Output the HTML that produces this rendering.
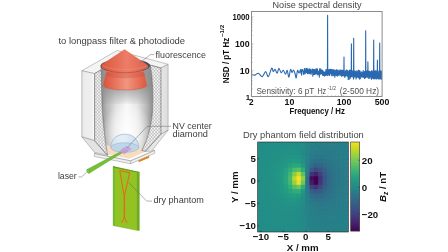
<!DOCTYPE html>
<html><head><meta charset="utf-8"><style>
html,body{margin:0;padding:0;background:#fff;width:448px;height:252px;overflow:hidden}
svg{display:block}
.lt{font-family:"Liberation Sans",sans-serif}
.bt{font-family:"Liberation Sans",sans-serif;font-weight:bold;fill:#111}
</style></head><body>
<svg width="448" height="252" viewBox="0 0 448 252">
<defs>
<filter id="soft" x="-2%" y="-2%" width="104%" height="104%"><feGaussianBlur stdDeviation="0.45"/></filter>
</defs>
<rect width="448" height="252" fill="#fff"/>
<defs>
<pattern id="hatch" width="3" height="3.3" patternUnits="userSpaceOnUse">
<rect width="3" height="3.3" fill="#fcfcfc"/>
<path d="M0,0 L3,3.3 M3,0 L0,3.3" stroke="#808080" stroke-width="0.42" fill="none"/>
</pattern>
<linearGradient id="bore" x1="101" y1="0" x2="153" y2="0" gradientUnits="userSpaceOnUse">
<stop offset="0" stop-color="#8c8c8c"/>
<stop offset="0.1" stop-color="#b4b4b4"/>
<stop offset="0.28" stop-color="#dedede"/>
<stop offset="0.5" stop-color="#f7f7f7"/>
<stop offset="0.7" stop-color="#e4e4e4"/>
<stop offset="0.88" stop-color="#b8b8b8"/>
<stop offset="1" stop-color="#8a8a8a"/>
</linearGradient>
<linearGradient id="boretop" x1="0" y1="86" x2="0" y2="106" gradientUnits="userSpaceOnUse">
<stop offset="0" stop-color="#8a8a8a" stop-opacity="0.75"/>
<stop offset="1" stop-color="#8a8a8a" stop-opacity="0"/>
</linearGradient>
<radialGradient id="borehl" cx="127" cy="132" r="24" gradientUnits="userSpaceOnUse" gradientTransform="translate(127 132) scale(1 1.3) translate(-127 -132)">
<stop offset="0" stop-color="#ffffff" stop-opacity="0.85"/>
<stop offset="0.6" stop-color="#ffffff" stop-opacity="0.45"/>
<stop offset="1" stop-color="#ffffff" stop-opacity="0"/>
</radialGradient>
<linearGradient id="lface" x1="82" y1="0" x2="95" y2="0" gradientUnits="userSpaceOnUse">
<stop offset="0" stop-color="#e2e2e2"/><stop offset="0.15" stop-color="#ececec"/><stop offset="0.75" stop-color="#efefef"/><stop offset="0.92" stop-color="#fafafa"/><stop offset="1" stop-color="#f4f4f4"/>
</linearGradient>
<linearGradient id="rface" x1="161" y1="0" x2="168" y2="0" gradientUnits="userSpaceOnUse">
<stop offset="0" stop-color="#f6f6f6"/><stop offset="0.2" stop-color="#e4e4e4"/><stop offset="1" stop-color="#dddddd"/>
</linearGradient>
<linearGradient id="cone" x1="101" y1="0" x2="148" y2="0" gradientUnits="userSpaceOnUse">
<stop offset="0" stop-color="#dc553b"/>
<stop offset="0.55" stop-color="#ec7d68"/>
<stop offset="1" stop-color="#e0614a"/>
</linearGradient>
<linearGradient id="frus" x1="103" y1="0" x2="146" y2="0" gradientUnits="userSpaceOnUse">
<stop offset="0" stop-color="#dc5239"/>
<stop offset="0.55" stop-color="#f19580"/>
<stop offset="1" stop-color="#df5a40"/>
</linearGradient>
<radialGradient id="dome" cx="122" cy="138" r="16" gradientUnits="userSpaceOnUse">
<stop offset="0" stop-color="#e4eef7"/>
<stop offset="1" stop-color="#c9dcee"/>
</radialGradient>
</defs>
<g id="illus" stroke-linejoin="round">
<!-- white plate -->
<path d="M94.4,153.7 L118.5,143.3 L154.7,150.5 L130.6,160.9 Z" fill="#fbfbfb" stroke="#8c8c8c" stroke-width="0.5"/>
<path d="M94.4,153.7 L130.6,160.9 L154.7,150.5 L154.7,153.3 L130.6,163.7 L94.4,156.5 Z" fill="#f0f0f0" stroke="#8c8c8c" stroke-width="0.5"/>
<path d="M130.6,160.9 L130.6,163.7" stroke="#8c8c8c" stroke-width="0.5"/>
<path d="M138.6,160.3 L149.2,155.7 L149.2,157.7 L138.6,162.3 Z" fill="#e0801e"/>
<!-- beige sample area -->
<path d="M105.2,144.5 C110,142.8 118,141.5 125,141 L147.8,150.8 L129.2,158.8 L108,154.6 Z" fill="#f6dcc0"/>
<!-- bore interior -->
<path d="M100.8,66 C101.5,85 101.8,110 103.5,125 C104.3,133 105,139 105.9,144.2 C108,145.5 110,146.3 112,146.3 L138,146.3 C139.5,147 140.8,148.5 141.8,150.5 C146,142 151,130 152.5,112 C153.3,98 153,80 150.3,64.5 Z" fill="url(#bore)"/>
<path d="M100.8,66 C101.5,85 101.8,95 102,104 L152.9,104 C153,90 153,80 150.3,64.5 Z" fill="url(#boretop)"/>
<path d="M100.8,66 C101.5,85 101.8,110 103.5,125 C104.3,133 105,139 105.9,144.2 C108,145.5 110,146.3 112,146.3 L138,146.3 C139.5,147 140.8,148.5 141.8,150.5 C146,142 151,130 152.5,112 C153.3,98 153,80 150.3,64.5 Z" fill="url(#borehl)"/>
<!-- top rim -->
<path d="M81.8,70.8 L117,50.5 L168.1,64.3 L160.9,68 L150.3,65.2 C146,60.5 135,58.8 125.3,59 C115,59.3 104,61.5 100.8,66.4 L101.2,69.8 L94.6,73.6 Z" fill="#f4f4f4" stroke="#8c8c8c" stroke-width="0.5"/>
<path d="M94.6,73.6 L122.4,57.7 L160.9,68" fill="none" stroke="#a8a8a8" stroke-width="0.4"/>
<!-- bore opening (dark ring) -->
<path d="M100.3,66 C101,61.5 112,59.3 125.3,59.2 C139,59.3 149.5,61.5 150.3,65.5 C149,70 140,72.5 125.3,72.5 C111,72.5 101.5,70.5 100.3,66 Z" fill="#4e4e4e"/>
<path d="M102.5,66.5 C104,63 113,61.2 125.3,61.2 C137.5,61.2 146.5,63 148.2,66.5 C146.5,70.5 137,72.2 125.3,72.2 C113,72.2 104,70.5 102.5,66.5 Z" fill="#8a8a8a"/>
<!-- outer faces -->
<path d="M81.8,70.8 L94.6,73.6 L94.6,140.7 L81.8,136.9 Z" fill="url(#lface)" stroke="#8c8c8c" stroke-width="0.5"/>
<path d="M168.1,64.3 L160.9,68 L160.9,134.2 L168.1,130.3 Z" fill="url(#rface)" stroke="#8c8c8c" stroke-width="0.5"/>
<!-- chamfers -->
<path d="M81.8,136.9 L94.6,140.7 L107.2,155.2 L94.5,152.4 Z" fill="#e3e3e3" stroke="#8c8c8c" stroke-width="0.5"/>
<path d="M168.1,130.3 L160.9,134.2 L145.3,151.3 L151.5,151.2 Z" fill="#e6e6e6" stroke="#8c8c8c" stroke-width="0.5"/>
<!-- hatched cut faces -->
<path d="M94.6,73.6 L101.2,69.8 C101.5,85 101.8,110 103.5,125 C104.8,138 106,148 107.8,155.2 L107.2,155.2 L94.6,140.7 Z" fill="url(#hatch)" stroke="#666" stroke-width="0.6"/>
<path d="M150.3,65.2 L160.9,68 L160.9,134.2 L145.3,151.3 L141.8,150.5 C146,142 151,130 152.5,112 C153.3,98 153,80 150.3,65.2 Z" fill="url(#hatch)" stroke="#666" stroke-width="0.6"/>
<!-- laser beam -->
<path d="M87.25,169.5 L122.1,150.9 L122.9,152.3 L89.35,173.1 Z" fill="#74c22c" stroke="#4a962c" stroke-width="0.5"/>
<ellipse cx="88.3" cy="171.3" rx="1.25" ry="2.15" transform="rotate(-30 88.3 171.3)" fill="#8ccd4a" stroke="#4a962c" stroke-width="0.5"/>
<!-- diamond -->
<!-- dome -->
<path d="M110.8,146.5 C110.8,139 117,134.2 124.8,134.2 C132.6,134.2 138.8,139 138.8,146.5 Z" fill="url(#dome)" fill-opacity="0.9"/>
<ellipse cx="124.8" cy="147.6" rx="14" ry="4.8" fill="#b9d4ea" fill-opacity="0.85" stroke="#8fb0c8" stroke-width="0.5"/>
<g opacity="0.8"><path d="M119.3,151.6 L126.0,146.4 L131.2,148.8 L124.5,153.8 Z" fill="#cfa6dc" stroke="#a87cc4" stroke-width="0.45"/>
<path d="M121.5,152.6 L128.2,147.4 M123.2,153.2 L129.8,148.1 M120.6,150.2 L125.9,152.7 M122.4,148.8 L127.7,151.3" stroke="#a87cc4" stroke-width="0.45" fill="none"/></g>
<path d="M110.8,147.6 C110.8,139 117,134.2 124.8,134.2 C132.6,134.2 138.8,139 138.8,147.6" fill="none" stroke="#8fb0c8" stroke-width="0.6"/>
<!-- frustum -->
<path d="M106.5,71.5 L103,85.5 C105,88.6 114,89.9 124.6,89.9 C135,89.9 144.5,88.6 147,85.5 L143.9,71.5 Z" fill="url(#frus)"/>
<path d="M103,85.5 C105,88.6 114,89.9 124.6,89.9 C135,89.9 144.5,88.6 147,85.5" fill="none" stroke="#c94a32" stroke-width="0.4"/>
<path d="M106.3,72.3 L105.6,75.5 C111,77.6 117,78.2 124.6,78.2 C132,78.2 139,77.6 144.6,75.5 L143.9,72.3 Z" fill="#c84a33" fill-opacity="0.3"/>
<!-- cone -->
<path d="M124.6,49.3 L103.2,63.6 C100.6,65.2 100.9,67.6 103.6,68.9 C110,71.6 117,72.7 124.6,72.7 C132,72.7 139,71.7 145.3,69.1 C148.2,67.7 148.2,65.2 145.8,63.7 Z" fill="url(#cone)"/>
<path d="M103.6,68.9 C110,71.6 117,72.7 124.6,72.7 C132,72.7 139,71.7 145.3,69.1" fill="none" stroke="#b9432c" stroke-width="0.6"/>
<path d="M102.5,65.8 C110,68.8 117,69.6 124.6,69.6 C132,69.6 139,68.8 146.8,65.9" fill="none" stroke="#f39a86" stroke-width="0.8" stroke-opacity="0.45"/>
<!-- phantom -->
<path d="M113.2,166.3 L139.4,171.9 L139.4,230.8 L113.2,225.6 Z" fill="#92c322"/>
<path d="M113.2,166.3 L115,166.7 L115,226 L113.2,225.6 Z" fill="#74bd32"/>
<path d="M113.2,166.3 L139.4,171.9 L139.4,173.1 L113.2,167.5 Z" fill="#679a2a"/>
<path d="M136.9,171.5 L139.4,171.9 L139.4,230.8 L136.9,230.3 Z" fill="#6eaa2a"/>
<path d="M113.2,166.3 L113.2,225.6 L136.9,230.3" fill="none" stroke="#6aa83a" stroke-width="0.5"/>
<path d="M124.3,196.5 L119.8,170.7 L129.7,172.6 Z M124.2,196.5 C123.6,200 124.9,203 124.2,206.5 C123.6,210 124.9,213 124.2,218 L121.6,222.6 M124.5,196.5 C125.1,200 123.8,203 124.5,206.5 C125.1,210 123.8,213 124.5,218 L127,222.8" fill="none" stroke="#ec6419" stroke-width="1.0" stroke-linejoin="round"/>
<!-- leader lines -->
<path d="M139.7,62.8 L150.5,54.6 L154.2,54.6" fill="none" stroke="#666" stroke-width="0.5"/>
<path d="M127.0,147.9 L147.2,126.3 L171,126.3" fill="none" stroke="#666" stroke-width="0.5"/>
<path d="M78.6,176.9 L81.7,176.9 L86.8,172" fill="none" stroke="#666" stroke-width="0.5"/>
<path d="M128.6,182.5 L146.7,201.1 L152,201.1" fill="none" stroke="#666" stroke-width="0.5"/>
<!-- labels -->
<g class="lt" fill="#3c3c3c" font-size="8.7">
<text x="58.5" y="43.6" textLength="126.6" lengthAdjust="spacingAndGlyphs">to longpass filter &amp; photodiode</text>
<text x="155.6" y="57.7" textLength="50.4" lengthAdjust="spacingAndGlyphs">fluorescence</text>
<text x="172.6" y="128.5" textLength="39.2" lengthAdjust="spacingAndGlyphs">NV center</text>
<text x="172.6" y="137" textLength="35.3" lengthAdjust="spacingAndGlyphs">diamond</text>
<text x="57.9" y="179" textLength="18.8" lengthAdjust="spacingAndGlyphs">laser</text>
<text x="153.4" y="203.4" textLength="50.5" lengthAdjust="spacingAndGlyphs">dry phantom</text>
</g>
</g>

<g id="nsd">
<text x="272.5" y="7.6" class="lt" font-size="8.6" fill="#454545" textLength="89" lengthAdjust="spacingAndGlyphs">Noise spectral density</text>
<clipPath id="nsdclip"><rect x="251" y="11.6" width="131" height="85"/></clipPath>
<path d="M318.00,71.94 L318.60,71.94 L319.20,71.86 L319.80,71.86 L320.40,71.84 L321.00,71.81 L321.60,71.79 L322.20,71.75 L322.80,71.85 L323.40,71.60 L324.00,71.67 L324.60,71.71 L325.20,71.70 L325.80,71.51 L326.40,71.81 L327.00,71.29 L327.60,71.69 L328.20,71.25 L328.80,71.80 L329.40,71.68 L330.00,71.05 L330.60,71.66 L331.20,71.32 L331.80,71.37 L332.40,71.42 L333.00,70.98 L333.60,70.87 L334.20,70.85 L334.80,70.69 L335.40,71.16 L336.00,71.06 L336.60,71.52 L337.20,71.62 L337.80,71.50 L338.40,71.14 L339.00,71.23 L339.60,71.12 L340.20,71.22 L340.80,70.35 L341.40,70.07 L342.00,71.04 L342.60,71.12 L343.20,70.76 L343.80,69.85 L344.40,70.29 L345.00,71.41 L345.60,70.37 L346.20,69.99 L346.80,71.56 L347.40,69.97 L348.00,70.03 L348.60,71.69 L349.20,70.96 L349.80,70.44 L350.40,69.96 L351.00,70.34 L351.60,70.42 L352.20,70.03 L352.80,71.11 L353.40,70.16 L354.00,70.19 L354.60,71.34 L355.20,71.17 L355.80,71.36 L356.40,71.88 L357.00,70.67 L357.60,70.86 L358.20,71.77 L358.80,71.70 L359.40,70.74 L360.00,71.66 L360.60,71.96 L361.20,70.94 L361.80,71.78 L362.40,72.35 L363.00,71.25 L363.60,71.75 L364.20,71.27 L364.80,71.05 L365.40,70.53 L366.00,72.05 L366.60,70.52 L367.20,71.35 L367.80,70.65 L368.40,71.58 L369.00,71.22 L369.60,72.04 L370.20,72.68 L370.80,72.62 L371.40,72.10 L372.00,72.77 L372.60,71.93 L373.20,71.36 L373.80,72.39 L374.40,70.99 L375.00,72.77 L375.60,72.93 L376.20,72.97 L376.80,71.66 L377.40,72.73 L378.00,72.36 L378.60,72.93 L379.20,71.65 L379.80,71.80 L380.40,72.62 L381.00,71.10 L381.60,71.82 L381.60,78.47 L381.00,79.09 L380.40,78.53 L379.80,77.41 L379.20,78.37 L378.60,78.88 L378.00,77.82 L377.40,79.03 L376.80,77.23 L376.20,77.25 L375.60,77.41 L375.00,77.59 L374.40,78.24 L373.80,78.91 L373.20,76.81 L372.60,77.19 L372.00,78.71 L371.40,76.83 L370.80,77.07 L370.20,77.78 L369.60,76.57 L369.00,77.24 L368.40,77.77 L367.80,76.55 L367.20,78.50 L366.60,76.98 L366.00,76.76 L365.40,76.73 L364.80,76.44 L364.20,76.56 L363.60,77.46 L363.00,76.69 L362.40,76.96 L361.80,77.39 L361.20,77.60 L360.60,76.23 L360.00,77.27 L359.40,76.70 L358.80,76.52 L358.20,76.34 L357.60,77.45 L357.00,76.93 L356.40,75.88 L355.80,76.58 L355.20,76.58 L354.60,77.15 L354.00,76.41 L353.40,76.31 L352.80,77.39 L352.20,76.02 L351.60,77.21 L351.00,76.23 L350.40,75.69 L349.80,76.67 L349.20,76.41 L348.60,76.37 L348.00,76.42 L347.40,75.27 L346.80,75.80 L346.20,75.33 L345.60,75.34 L345.00,76.90 L344.40,75.92 L343.80,75.26 L343.20,76.08 L342.60,75.14 L342.00,76.12 L341.40,76.33 L340.80,75.34 L340.20,75.24 L339.60,75.70 L339.00,74.48 L338.40,75.23 L337.80,74.95 L337.20,74.51 L336.60,74.51 L336.00,74.27 L335.40,74.81 L334.80,74.10 L334.20,73.85 L333.60,74.11 L333.00,73.81 L332.40,74.61 L331.80,73.68 L331.20,74.16 L330.60,73.83 L330.00,73.38 L329.40,73.63 L328.80,73.43 L328.20,73.75 L327.60,73.16 L327.00,73.03 L326.40,73.37 L325.80,73.13 L325.20,73.03 L324.60,72.81 L324.00,72.92 L323.40,72.60 L322.80,72.68 L322.20,72.55 L321.60,72.40 L321.00,72.44 L320.40,72.33 L319.80,72.18 L319.20,72.12 L318.60,72.03 L318.00,71.94 Z" fill="#2a69b0" fill-opacity="0.9" clip-path="url(#nsdclip)"/>
<path d="M251.60,74.70 C252.17,74.77 253.88,75.35 255.00,75.10 C256.12,74.85 257.10,72.95 258.30,73.20 C259.50,73.45 260.98,76.87 262.20,76.60 C263.42,76.33 264.58,71.60 265.60,71.60 C266.62,71.60 267.28,77.17 268.30,76.60 C269.32,76.03 270.87,69.03 271.70,68.20 C272.53,67.37 272.75,71.42 273.30,71.60 C273.85,71.78 274.35,69.03 275.00,69.30 C275.65,69.57 276.55,73.38 277.20,73.20 C277.85,73.02 278.25,68.28 278.90,68.20 C279.55,68.12 280.37,72.37 281.10,72.70 C281.83,73.03 282.55,69.93 283.30,70.20 C284.05,70.47 284.95,74.27 285.60,74.30 C286.25,74.33 286.65,69.93 287.20,70.40 C287.75,70.87 288.35,77.25 288.90,77.10 C289.45,76.95 289.98,70.27 290.50,69.50 C291.02,68.73 291.50,72.42 292.00,72.50 C292.50,72.58 293.00,69.83 293.50,70.00 C294.00,70.17 294.55,72.17 295.00,73.50 C295.45,74.83 295.78,78.50 296.20,78.00 C296.62,77.50 297.03,71.33 297.50,70.50 C297.97,69.67 298.50,73.17 299.00,73.00 C299.50,72.83 300.25,70.08 300.50,69.50 L300.72,71.75 L300.94,73.35 L301.16,69.45 L301.37,69.89 L301.59,75.18 L301.81,72.82 L302.03,70.91 L302.24,69.95 L302.46,69.81 L302.67,69.68 L302.89,70.82 L303.11,71.18 L303.32,71.48 L303.53,74.11 L303.75,71.91 L303.96,74.49 L304.18,71.88 L304.39,68.50 L304.60,68.46 L304.81,71.33 L305.02,71.05 L305.24,73.76 L305.45,71.36 L305.66,71.27 L305.87,69.78 L306.08,68.36 L306.29,69.46 L306.50,72.49 L306.71,69.53 L306.91,70.56 L307.12,68.35 L307.33,73.38 L307.54,69.28 L307.74,69.98 L307.95,73.73 L308.16,73.54 L308.36,72.28 L308.57,72.92 L308.78,68.94 L308.98,71.71 L309.18,71.52 L309.39,73.77 L309.59,72.10 L309.80,68.78 L310.00,70.82 L310.20,70.43 L310.41,69.37 L310.61,73.51 L310.81,70.81 L311.01,74.55 L311.21,72.23 L311.41,72.45 L311.61,72.70 L311.81,69.43 L312.01,71.25 L312.21,70.00 L312.41,71.03 L312.61,69.12 L312.81,76.30 L313.01,70.41 L313.21,74.04 L313.40,69.37 L313.60,73.88 L313.80,74.53 L313.99,72.17 L314.19,69.48 L314.39,69.79 L314.58,74.48 L314.78,69.73 L314.97,74.22 L315.17,72.23 L315.36,71.00 L315.55,71.24 L315.75,70.15 L315.94,68.86 L316.13,74.25 L316.32,72.15 L316.52,70.71 L316.71,73.49 L316.90,68.81 L317.09,71.06 L317.28,68.86 L317.47,69.46 L317.66,74.94 L317.85,71.46 L318.04,72.09 L318.23,74.37 L318.42,72.54 L318.61,73.16 L318.80,71.03 L318.98,72.11 L319.17,73.73 L319.36,77.13 L319.55,68.77 L319.73,73.69 L319.92,74.07 L320.11,69.66 L320.29,71.52 L320.48,74.14 L320.66,68.87 L320.85,72.93 L321.03,74.03 L321.21,72.19 L321.40,73.61 L321.58,70.31 L321.77,70.13 L321.95,71.23 L322.13,70.02 L322.31,71.13 L322.49,75.16 L322.68,71.11 L322.86,70.66 L323.04,75.22 L323.22,75.43 L323.40,72.36 L323.58,74.89 L323.76,72.78 L323.94,71.75 L324.12,74.80 L324.30,76.27 L324.48,72.41 L324.65,75.33 L324.83,74.36 L325.01,73.50 L325.19,73.78 L325.36,73.20 L325.54,75.53 L325.72,71.65 L325.89,70.33 L326.07,69.30 L326.24,70.41 L326.42,75.21 L326.59,69.74 L326.77,73.10 L326.94,72.26 L327.12,73.06 L327.29,73.51 L327.46,71.10 L327.45,74.00 L327.60,15.40 L327.75,74.50 L327.64,75.61 L327.81,73.33 L327.98,73.39 L328.15,70.29 L328.33,69.45 L328.50,71.87 L328.67,74.32 L328.84,74.68 L329.01,74.11 L329.18,69.84 L329.35,75.40 L329.52,75.16 L329.69,75.52 L329.86,69.22 L330.03,70.84 L330.20,70.82 L330.37,70.40 L330.54,73.06 L330.70,69.38 L330.87,73.24 L331.04,70.28 L331.20,73.87 L331.37,69.28 L331.54,71.31 L331.70,75.74 L331.87,74.86 L332.04,73.78 L332.20,73.46 L332.37,70.51 L332.53,73.22 L332.70,69.45 L332.86,74.85 L333.02,75.98 L333.19,69.55 L333.35,71.60 L333.51,71.46 L333.68,70.00 L333.84,73.67 L334.00,74.89 L334.16,71.46 L334.32,75.38 L334.49,70.15 L334.65,74.72 L334.81,77.19 L334.97,73.82 L335.13,73.62 L335.29,69.95 L335.45,74.01 L335.61,73.81 L335.77,75.20 L335.93,75.06 L336.08,71.64 L336.24,74.49 L336.40,75.55 L336.56,70.46 L336.72,69.50 L336.87,74.02 L337.03,70.87 L337.19,73.40 L337.34,76.18 L337.50,71.16 L337.66,72.65 L337.81,74.12 L337.97,70.08 L338.12,72.12 L338.28,70.33 L338.43,74.19 L338.59,75.43 L338.74,72.12 L338.89,72.09 L339.05,73.33 L339.20,70.96 L339.35,71.20 L339.51,71.82 L339.66,72.76 L339.81,70.00 L339.96,74.95 L340.12,73.68 L340.27,71.63 L340.42,70.00 L340.57,75.06 L340.72,70.40 L340.87,70.43 L341.02,70.41 L341.17,70.05 L341.32,76.17 L341.47,71.73 L341.62,75.64 L341.77,74.07 L341.92,70.87 L342.07,72.71 L342.21,76.06 L342.36,74.78 L342.51,70.22 L342.66,74.92 L342.80,75.30 L342.95,75.68 L343.10,74.55 L343.24,72.29 L343.39,70.00 L343.54,73.42 L343.68,75.21 L343.83,70.97 L343.97,71.54 L343.85,74.00 L344.00,57.10 L344.15,74.50 L344.12,73.58 L344.26,75.18 L344.41,76.86 L344.55,75.59 L344.69,74.43 L344.84,75.01 L344.98,77.10 L345.13,75.95 L345.27,75.46 L345.41,72.58 L345.55,74.45 L345.70,71.00 L345.84,75.36 L345.98,75.36 L346.12,75.09 L346.26,73.00 L346.40,72.50 L346.54,72.82 L346.68,69.89 L346.82,76.07 L346.96,73.78 L347.10,72.60 L347.24,73.84 L347.38,75.17 L347.52,72.58 L347.66,76.02 L347.80,76.71 L347.94,70.73 L348.08,75.51 L348.21,79.49 L348.35,76.03 L348.49,77.05 L348.63,77.84 L348.76,74.13 L348.90,73.14 L349.04,75.49 L349.17,71.18 L349.31,79.15 L349.45,70.25 L349.58,73.39 L349.72,69.98 L349.85,72.17 L349.99,72.16 L350.12,75.32 L350.26,73.28 L350.39,70.20 L350.52,77.49 L350.66,78.11 L350.79,71.53 L350.92,70.74 L351.06,70.03 L351.19,73.70 L351.32,70.75 L351.25,74.00 L351.40,43.90 L351.55,74.50 L351.45,71.17 L351.59,76.51 L351.72,71.23 L351.85,75.04 L351.98,71.89 L352.11,73.94 L352.24,72.03 L352.37,73.87 L352.51,74.75 L352.64,74.04 L352.77,72.94 L352.90,76.05 L353.03,77.14 L353.16,70.74 L353.28,77.56 L353.41,71.67 L353.54,79.10 L353.67,73.79 L353.55,74.00 L353.70,38.30 L353.85,74.50 L353.80,78.09 L353.93,74.61 L354.06,70.40 L354.18,71.75 L354.31,73.56 L354.44,76.86 L354.56,76.46 L354.69,75.93 L354.82,75.52 L354.94,76.65 L355.07,75.32 L355.20,75.76 L355.32,72.32 L355.45,71.26 L355.57,75.95 L355.70,71.25 L355.82,77.27 L355.95,72.57 L356.07,79.06 L356.20,70.68 L356.32,77.67 L356.44,76.38 L356.57,72.21 L356.69,76.38 L356.82,75.60 L356.94,75.13 L357.06,77.60 L357.18,73.31 L357.31,75.54 L357.43,76.70 L357.55,72.69 L357.67,75.38 L357.79,71.68 L357.91,74.45 L358.04,76.21 L358.16,70.54 L358.28,75.89 L358.40,70.14 L358.52,77.77 L358.64,73.33 L358.76,75.86 L358.88,74.27 L359.00,75.96 L359.12,70.73 L359.24,74.61 L359.35,74.58 L359.47,79.09 L359.59,75.18 L359.71,74.54 L359.83,70.67 L359.95,74.90 L360.06,71.88 L360.18,71.67 L360.30,78.72 L360.42,76.20 L360.53,75.86 L360.65,74.61 L360.77,76.69 L360.88,73.91 L361.00,75.18 L361.11,76.81 L361.23,75.66 L361.34,75.37 L361.46,73.45 L361.57,74.70 L361.69,73.38 L361.80,76.24 L361.92,73.26 L362.03,73.97 L362.15,76.35 L362.26,74.29 L362.37,72.93 L362.49,76.96 L362.60,73.30 L362.71,77.12 L362.83,76.64 L362.94,73.86 L363.05,76.06 L363.17,70.46 L363.28,73.40 L363.39,77.30 L363.50,74.80 L363.61,75.69 L363.72,75.81 L363.84,75.03 L363.95,73.69 L364.06,71.73 L364.17,72.64 L364.28,72.65 L364.39,73.80 L364.50,78.53 L364.61,73.94 L364.72,73.32 L364.83,75.07 L364.94,78.13 L365.05,73.38 L365.15,72.47 L365.26,77.62 L365.37,75.97 L365.48,70.86 L365.59,77.50 L365.70,74.39 L365.55,74.00 L365.70,30.70 L365.85,74.50 L365.80,71.92 L365.91,73.78 L366.02,77.20 L366.13,77.21 L366.23,74.25 L366.34,76.72 L366.45,74.13 L366.55,73.42 L366.66,74.88 L366.77,71.99 L366.87,72.96 L366.98,76.24 L367.08,76.79 L367.19,70.79 L367.30,76.48 L367.40,77.20 L367.51,74.07 L367.61,70.85 L367.71,76.09 L367.82,72.41 L367.75,74.00 L367.90,61.90 L368.05,74.50 L367.92,75.77 L368.03,73.52 L368.13,75.73 L368.23,72.53 L368.34,74.38 L368.44,74.79 L368.54,75.70 L368.65,72.08 L368.75,78.52 L368.85,72.96 L368.96,72.54 L369.06,70.94 L369.16,73.97 L369.26,76.94 L369.36,76.41 L369.47,72.05 L369.57,71.55 L369.67,73.13 L369.77,76.94 L369.87,74.56 L369.97,78.27 L370.07,75.70 L370.17,76.96 L370.27,76.82 L370.37,73.35 L370.47,72.61 L370.57,74.16 L370.67,74.61 L370.77,71.64 L370.87,74.21 L370.97,75.91 L371.07,71.60 L371.17,71.62 L371.26,71.93 L371.36,72.88 L371.46,79.34 L371.56,71.87 L371.66,74.53 L371.75,70.59 L371.85,74.40 L371.95,71.87 L372.05,72.79 L372.14,77.30 L372.24,72.06 L372.34,75.80 L372.43,73.99 L372.53,74.09 L372.63,77.54 L372.72,71.88 L372.82,78.47 L372.91,76.27 L373.01,70.93 L373.10,76.24 L373.20,75.70 L373.29,77.19 L373.39,72.37 L373.48,78.78 L373.58,71.51 L373.67,73.26 L373.55,74.00 L373.70,40.00 L373.85,74.50 L373.77,70.81 L373.86,77.74 L373.95,78.48 L374.05,75.85 L374.14,76.33 L374.24,76.44 L374.33,75.50 L374.42,78.83 L374.51,73.47 L374.61,75.02 L374.70,70.72 L374.79,76.87 L374.89,76.61 L374.98,74.24 L375.07,78.00 L375.16,73.51 L375.25,71.25 L375.34,71.73 L375.44,72.19 L375.53,73.24 L375.62,74.50 L375.71,78.71 L375.80,78.46 L375.89,78.07 L375.98,70.63 L376.07,77.50 L376.16,72.76 L376.25,71.86 L376.34,77.63 L376.43,76.64 L376.52,72.48 L376.61,72.97 L376.70,78.88 L376.79,76.80 L376.88,71.77 L376.97,77.80 L377.05,71.67 L377.14,75.18 L377.23,70.95 L377.32,75.49 L377.25,74.00 L377.40,60.00 L377.55,74.50 L377.41,78.11 L377.49,71.39 L377.58,73.07 L377.67,77.40 L377.76,76.03 L377.84,73.42 L377.93,76.22 L378.02,74.69 L378.11,78.30 L378.19,77.38 L378.28,76.30 L378.36,77.23 L378.45,74.03 L378.54,77.11 L378.62,76.88 L378.71,74.13 L378.79,70.93 L378.88,79.24 L378.97,72.51 L379.05,77.19 L379.14,73.18 L379.22,74.88 L379.30,78.35 L379.39,73.27 L379.47,73.43 L379.56,71.40 L379.64,72.67 L379.55,74.00 L379.70,43.10 L379.85,74.50 L379.73,73.14 L379.81,72.27 L379.89,71.29 L379.98,74.88 L380.06,72.65 L380.14,77.33 L380.23,78.97 L380.31,75.85 L380.39,75.27 L380.48,71.42 L380.56,71.87 L380.64,78.67 L380.72,77.95 L380.81,71.35 L380.89,76.09 L380.97,78.51 L381.05,70.82 L381.13,75.44 L381.21,74.08 L381.30,77.59 L381.38,71.43 L381.46,73.16 L381.54,78.08 L381.62,75.00 L381.70,74.86 L381.78,79.50 L381.86,71.17" fill="none" stroke="#2a69b0" stroke-width="1.1" stroke-linejoin="round" clip-path="url(#nsdclip)"/>
<rect x="251.6" y="81.6" width="129.8" height="14.5" fill="#fff"/>
<text x="256.4" y="94.0" class="lt" font-size="9.8" fill="#505050"><tspan textLength="58" lengthAdjust="spacingAndGlyphs">Sensitivity: 6 pT</tspan><tspan x="317.4" textLength="8.8" lengthAdjust="spacingAndGlyphs">Hz</tspan><tspan x="327.6" y="89.9" font-size="4.6" textLength="8.4" lengthAdjust="spacingAndGlyphs">-1/2</tspan><tspan x="339.7" y="93.9" textLength="39.4" lengthAdjust="spacingAndGlyphs">(2-500 Hz)</tspan></text>
<rect x="251.5" y="11.5" width="130.6" height="85" fill="none" stroke="#8c8c8c" stroke-width="1"/>
<path d="M252,97.00h1.6 M252,70.25h1.6 M252,43.50h1.6 M252,16.75h1.6 M252,88.95h1.0 M252,84.24h1.0 M252,80.89h1.0 M252,78.30h1.0 M252,76.18h1.0 M252,74.39h1.0 M252,72.84h1.0 M252,71.47h1.0 M252,62.20h1.0 M252,57.49h1.0 M252,54.14h1.0 M252,51.55h1.0 M252,49.43h1.0 M252,47.64h1.0 M252,46.09h1.0 M252,44.72h1.0 M252,35.45h1.0 M252,30.74h1.0 M252,27.39h1.0 M252,24.80h1.0 M252,22.68h1.0 M252,20.89h1.0 M252,19.34h1.0 M252,17.97h1.0 M289.18,96v-1.6 M343.82,96v-1.6 M251.00,96v-1.0 M260.62,96v-1.0 M267.45,96v-1.0 M272.74,96v-1.0 M277.07,96v-1.0 M280.72,96v-1.0 M283.89,96v-1.0 M286.69,96v-1.0 M305.63,96v-1.0 M315.25,96v-1.0 M322.08,96v-1.0 M327.37,96v-1.0 M331.70,96v-1.0 M335.35,96v-1.0 M338.52,96v-1.0 M341.32,96v-1.0 M360.26,96v-1.0 M369.88,96v-1.0 M376.71,96v-1.0 M382.00,96v-1.0" stroke="#a8a8a8" stroke-width="0.5" fill="none"/>
<text x="249.6" y="20.0" class="bt" text-anchor="end" font-size="8.8" textLength="17.2" lengthAdjust="spacingAndGlyphs">1000</text>
<text x="249.6" y="46.7" class="bt" text-anchor="end" font-size="8.8">100</text>
<text x="249.6" y="73.5" class="bt" text-anchor="end" font-size="8.8">10</text>
<text x="250.2" y="99.5" class="bt" text-anchor="end" font-size="7.8">1</text>
<text x="251.2" y="104.6" class="bt" text-anchor="middle" font-size="8.2">2</text>
<text x="289.4" y="104.9" class="bt" text-anchor="middle" font-size="8.8">10</text>
<text x="344.0" y="104.9" class="bt" text-anchor="middle" font-size="8.8">100</text>
<text x="382.0" y="104.9" class="bt" text-anchor="middle" font-size="8.8">500</text>
<text x="289.4" y="113.9" class="bt" font-size="8.8" textLength="55.4" lengthAdjust="spacingAndGlyphs">Frequency / Hz</text>
<text transform="translate(228.6,83.3) rotate(-90)" class="bt" font-size="8.8"><tspan textLength="45.5" lengthAdjust="spacingAndGlyphs">NSD / pT Hz</tspan><tspan x="46.2" y="-5.0" font-size="5.6" textLength="12.4" lengthAdjust="spacingAndGlyphs">−1/2</tspan></text>
</g>
<g id="heat">
<g filter="url(#soft)"><rect x="257.70" y="142.00" width="5.11" height="5.09" fill="#248e87"/><rect x="262.01" y="142.00" width="5.11" height="5.09" fill="#248e87"/><rect x="266.33" y="142.00" width="5.11" height="5.09" fill="#248e87"/><rect x="270.64" y="142.00" width="5.11" height="5.09" fill="#248f87"/><rect x="274.96" y="142.00" width="5.11" height="5.09" fill="#248f87"/><rect x="279.27" y="142.00" width="5.11" height="5.09" fill="#248f87"/><rect x="283.59" y="142.00" width="5.11" height="5.09" fill="#248f87"/><rect x="287.90" y="142.00" width="5.11" height="5.09" fill="#248f87"/><rect x="292.21" y="142.00" width="5.11" height="5.09" fill="#248f87"/><rect x="296.53" y="142.00" width="5.11" height="5.09" fill="#248d87"/><rect x="300.84" y="142.00" width="5.11" height="5.09" fill="#258a87"/><rect x="305.16" y="142.00" width="5.11" height="5.09" fill="#278488"/><rect x="309.47" y="142.00" width="5.11" height="5.09" fill="#288188"/><rect x="313.79" y="142.00" width="5.11" height="5.09" fill="#287f88"/><rect x="318.10" y="142.00" width="5.11" height="5.09" fill="#297e89"/><rect x="322.41" y="142.00" width="5.11" height="5.09" fill="#297e89"/><rect x="326.73" y="142.00" width="5.11" height="5.09" fill="#297e89"/><rect x="331.04" y="142.00" width="5.11" height="5.09" fill="#297e89"/><rect x="335.36" y="142.00" width="5.11" height="5.09" fill="#287f88"/><rect x="339.67" y="142.00" width="5.11" height="5.09" fill="#287f88"/><rect x="343.99" y="142.00" width="4.31" height="5.09" fill="#288088"/><rect x="257.70" y="146.29" width="5.11" height="5.09" fill="#248e87"/><rect x="262.01" y="146.29" width="5.11" height="5.09" fill="#248e87"/><rect x="266.33" y="146.29" width="5.11" height="5.09" fill="#248f87"/><rect x="270.64" y="146.29" width="5.11" height="5.09" fill="#248f87"/><rect x="274.96" y="146.29" width="5.11" height="5.09" fill="#239086"/><rect x="279.27" y="146.29" width="5.11" height="5.09" fill="#239086"/><rect x="283.59" y="146.29" width="5.11" height="5.09" fill="#239086"/><rect x="287.90" y="146.29" width="5.11" height="5.09" fill="#239086"/><rect x="292.21" y="146.29" width="5.11" height="5.09" fill="#239086"/><rect x="296.53" y="146.29" width="5.11" height="5.09" fill="#248e87"/><rect x="300.84" y="146.29" width="5.11" height="5.09" fill="#258a87"/><rect x="305.16" y="146.29" width="5.11" height="5.09" fill="#278488"/><rect x="309.47" y="146.29" width="5.11" height="5.09" fill="#287f88"/><rect x="313.79" y="146.29" width="5.11" height="5.09" fill="#297d89"/><rect x="318.10" y="146.29" width="5.11" height="5.09" fill="#297c89"/><rect x="322.41" y="146.29" width="5.11" height="5.09" fill="#297c89"/><rect x="326.73" y="146.29" width="5.11" height="5.09" fill="#297c89"/><rect x="331.04" y="146.29" width="5.11" height="5.09" fill="#297d89"/><rect x="335.36" y="146.29" width="5.11" height="5.09" fill="#297e89"/><rect x="339.67" y="146.29" width="5.11" height="5.09" fill="#297e89"/><rect x="343.99" y="146.29" width="4.31" height="5.09" fill="#287f88"/><rect x="257.70" y="150.57" width="5.11" height="5.09" fill="#248e87"/><rect x="262.01" y="150.57" width="5.11" height="5.09" fill="#248e87"/><rect x="266.33" y="150.57" width="5.11" height="5.09" fill="#248f87"/><rect x="270.64" y="150.57" width="5.11" height="5.09" fill="#239086"/><rect x="274.96" y="150.57" width="5.11" height="5.09" fill="#239086"/><rect x="279.27" y="150.57" width="5.11" height="5.09" fill="#239086"/><rect x="283.59" y="150.57" width="5.11" height="5.09" fill="#239186"/><rect x="287.90" y="150.57" width="5.11" height="5.09" fill="#239286"/><rect x="292.21" y="150.57" width="5.11" height="5.09" fill="#239286"/><rect x="296.53" y="150.57" width="5.11" height="5.09" fill="#239086"/><rect x="300.84" y="150.57" width="5.11" height="5.09" fill="#248b87"/><rect x="305.16" y="150.57" width="5.11" height="5.09" fill="#278388"/><rect x="309.47" y="150.57" width="5.11" height="5.09" fill="#297e89"/><rect x="313.79" y="150.57" width="5.11" height="5.09" fill="#2a7a89"/><rect x="318.10" y="150.57" width="5.11" height="5.09" fill="#2a7a89"/><rect x="322.41" y="150.57" width="5.11" height="5.09" fill="#2a7a89"/><rect x="326.73" y="150.57" width="5.11" height="5.09" fill="#2a7a89"/><rect x="331.04" y="150.57" width="5.11" height="5.09" fill="#297c89"/><rect x="335.36" y="150.57" width="5.11" height="5.09" fill="#297d89"/><rect x="339.67" y="150.57" width="5.11" height="5.09" fill="#297e89"/><rect x="343.99" y="150.57" width="4.31" height="5.09" fill="#287f88"/><rect x="257.70" y="154.86" width="5.11" height="5.09" fill="#248e87"/><rect x="262.01" y="154.86" width="5.11" height="5.09" fill="#248f87"/><rect x="266.33" y="154.86" width="5.11" height="5.09" fill="#248f87"/><rect x="270.64" y="154.86" width="5.11" height="5.09" fill="#239086"/><rect x="274.96" y="154.86" width="5.11" height="5.09" fill="#239086"/><rect x="279.27" y="154.86" width="5.11" height="5.09" fill="#239286"/><rect x="283.59" y="154.86" width="5.11" height="5.09" fill="#239485"/><rect x="287.90" y="154.86" width="5.11" height="5.09" fill="#239585"/><rect x="292.21" y="154.86" width="5.11" height="5.09" fill="#239685"/><rect x="296.53" y="154.86" width="5.11" height="5.09" fill="#239386"/><rect x="300.84" y="154.86" width="5.11" height="5.09" fill="#248d87"/><rect x="305.16" y="154.86" width="5.11" height="5.09" fill="#278388"/><rect x="309.47" y="154.86" width="5.11" height="5.09" fill="#2a7a89"/><rect x="313.79" y="154.86" width="5.11" height="5.09" fill="#2b7789"/><rect x="318.10" y="154.86" width="5.11" height="5.09" fill="#2c7689"/><rect x="322.41" y="154.86" width="5.11" height="5.09" fill="#2b7789"/><rect x="326.73" y="154.86" width="5.11" height="5.09" fill="#2b7989"/><rect x="331.04" y="154.86" width="5.11" height="5.09" fill="#2a7a89"/><rect x="335.36" y="154.86" width="5.11" height="5.09" fill="#297c89"/><rect x="339.67" y="154.86" width="5.11" height="5.09" fill="#297d89"/><rect x="343.99" y="154.86" width="4.31" height="5.09" fill="#297e89"/><rect x="257.70" y="159.14" width="5.11" height="5.09" fill="#248e87"/><rect x="262.01" y="159.14" width="5.11" height="5.09" fill="#248f87"/><rect x="266.33" y="159.14" width="5.11" height="5.09" fill="#239086"/><rect x="270.64" y="159.14" width="5.11" height="5.09" fill="#239086"/><rect x="274.96" y="159.14" width="5.11" height="5.09" fill="#239286"/><rect x="279.27" y="159.14" width="5.11" height="5.09" fill="#239485"/><rect x="283.59" y="159.14" width="5.11" height="5.09" fill="#239785"/><rect x="287.90" y="159.14" width="5.11" height="5.09" fill="#239a83"/><rect x="292.21" y="159.14" width="5.11" height="5.09" fill="#249c83"/><rect x="296.53" y="159.14" width="5.11" height="5.09" fill="#239a83"/><rect x="300.84" y="159.14" width="5.11" height="5.09" fill="#239086"/><rect x="305.16" y="159.14" width="5.11" height="5.09" fill="#288188"/><rect x="309.47" y="159.14" width="5.11" height="5.09" fill="#2c7589"/><rect x="313.79" y="159.14" width="5.11" height="5.09" fill="#2e7088"/><rect x="318.10" y="159.14" width="5.11" height="5.09" fill="#2e6f88"/><rect x="322.41" y="159.14" width="5.11" height="5.09" fill="#2d7288"/><rect x="326.73" y="159.14" width="5.11" height="5.09" fill="#2c7589"/><rect x="331.04" y="159.14" width="5.11" height="5.09" fill="#2b7989"/><rect x="335.36" y="159.14" width="5.11" height="5.09" fill="#2a7a89"/><rect x="339.67" y="159.14" width="5.11" height="5.09" fill="#297c89"/><rect x="343.99" y="159.14" width="4.31" height="5.09" fill="#297d89"/><rect x="257.70" y="163.43" width="5.11" height="5.09" fill="#248f87"/><rect x="262.01" y="163.43" width="5.11" height="5.09" fill="#248f87"/><rect x="266.33" y="163.43" width="5.11" height="5.09" fill="#239086"/><rect x="270.64" y="163.43" width="5.11" height="5.09" fill="#239186"/><rect x="274.96" y="163.43" width="5.11" height="5.09" fill="#239386"/><rect x="279.27" y="163.43" width="5.11" height="5.09" fill="#239685"/><rect x="283.59" y="163.43" width="5.11" height="5.09" fill="#239a83"/><rect x="287.90" y="163.43" width="5.11" height="5.09" fill="#27a180"/><rect x="292.21" y="163.43" width="5.11" height="5.09" fill="#2ca77d"/><rect x="296.53" y="163.43" width="5.11" height="5.09" fill="#2ca77d"/><rect x="300.84" y="163.43" width="5.11" height="5.09" fill="#239884"/><rect x="305.16" y="163.43" width="5.11" height="5.09" fill="#288088"/><rect x="309.47" y="163.43" width="5.11" height="5.09" fill="#306b88"/><rect x="313.79" y="163.43" width="5.11" height="5.09" fill="#336287"/><rect x="318.10" y="163.43" width="5.11" height="5.09" fill="#326588"/><rect x="322.41" y="163.43" width="5.11" height="5.09" fill="#306b88"/><rect x="326.73" y="163.43" width="5.11" height="5.09" fill="#2d7288"/><rect x="331.04" y="163.43" width="5.11" height="5.09" fill="#2c7689"/><rect x="335.36" y="163.43" width="5.11" height="5.09" fill="#2a7a89"/><rect x="339.67" y="163.43" width="5.11" height="5.09" fill="#2a7b89"/><rect x="343.99" y="163.43" width="4.31" height="5.09" fill="#297d89"/><rect x="257.70" y="167.71" width="5.11" height="5.09" fill="#248f87"/><rect x="262.01" y="167.71" width="5.11" height="5.09" fill="#248f87"/><rect x="266.33" y="167.71" width="5.11" height="5.09" fill="#239086"/><rect x="270.64" y="167.71" width="5.11" height="5.09" fill="#239186"/><rect x="274.96" y="167.71" width="5.11" height="5.09" fill="#239485"/><rect x="279.27" y="167.71" width="5.11" height="5.09" fill="#239884"/><rect x="283.59" y="167.71" width="5.11" height="5.09" fill="#259f82"/><rect x="287.90" y="167.71" width="5.11" height="5.09" fill="#31ab7a"/><rect x="292.21" y="167.71" width="5.11" height="5.09" fill="#4cba6d"/><rect x="296.53" y="167.71" width="5.11" height="5.09" fill="#59bf66"/><rect x="300.84" y="167.71" width="5.11" height="5.09" fill="#2ea97c"/><rect x="305.16" y="167.71" width="5.11" height="5.09" fill="#297d89"/><rect x="309.47" y="167.71" width="5.11" height="5.09" fill="#385886"/><rect x="313.79" y="167.71" width="5.11" height="5.09" fill="#3d4a83"/><rect x="318.10" y="167.71" width="5.11" height="5.09" fill="#395586"/><rect x="322.41" y="167.71" width="5.11" height="5.09" fill="#336388"/><rect x="326.73" y="167.71" width="5.11" height="5.09" fill="#2f6e88"/><rect x="331.04" y="167.71" width="5.11" height="5.09" fill="#2c7489"/><rect x="335.36" y="167.71" width="5.11" height="5.09" fill="#2b7889"/><rect x="339.67" y="167.71" width="5.11" height="5.09" fill="#2a7a89"/><rect x="343.99" y="167.71" width="4.31" height="5.09" fill="#297c89"/><rect x="257.70" y="172.00" width="5.11" height="5.09" fill="#248f87"/><rect x="262.01" y="172.00" width="5.11" height="5.09" fill="#239086"/><rect x="266.33" y="172.00" width="5.11" height="5.09" fill="#239086"/><rect x="270.64" y="172.00" width="5.11" height="5.09" fill="#239286"/><rect x="274.96" y="172.00" width="5.11" height="5.09" fill="#239585"/><rect x="279.27" y="172.00" width="5.11" height="5.09" fill="#239984"/><rect x="283.59" y="172.00" width="5.11" height="5.09" fill="#28a37f"/><rect x="287.90" y="172.00" width="5.11" height="5.09" fill="#40b473"/><rect x="292.21" y="172.00" width="5.11" height="5.09" fill="#89ce4a"/><rect x="296.53" y="172.00" width="5.11" height="5.09" fill="#ccda24"/><rect x="300.84" y="172.00" width="5.11" height="5.09" fill="#5fc162"/><rect x="305.16" y="172.00" width="5.11" height="5.09" fill="#2b7889"/><rect x="309.47" y="172.00" width="5.11" height="5.09" fill="#453379"/><rect x="313.79" y="172.00" width="5.11" height="5.09" fill="#46216c"/><rect x="318.10" y="172.00" width="5.11" height="5.09" fill="#41407f"/><rect x="322.41" y="172.00" width="5.11" height="5.09" fill="#375a87"/><rect x="326.73" y="172.00" width="5.11" height="5.09" fill="#306988"/><rect x="331.04" y="172.00" width="5.11" height="5.09" fill="#2d7288"/><rect x="335.36" y="172.00" width="5.11" height="5.09" fill="#2b7789"/><rect x="339.67" y="172.00" width="5.11" height="5.09" fill="#2a7a89"/><rect x="343.99" y="172.00" width="4.31" height="5.09" fill="#297c89"/><rect x="257.70" y="176.29" width="5.11" height="5.09" fill="#248f87"/><rect x="262.01" y="176.29" width="5.11" height="5.09" fill="#239086"/><rect x="266.33" y="176.29" width="5.11" height="5.09" fill="#239086"/><rect x="270.64" y="176.29" width="5.11" height="5.09" fill="#239286"/><rect x="274.96" y="176.29" width="5.11" height="5.09" fill="#239585"/><rect x="279.27" y="176.29" width="5.11" height="5.09" fill="#239a83"/><rect x="283.59" y="176.29" width="5.11" height="5.09" fill="#2aa57e"/><rect x="287.90" y="176.29" width="5.11" height="5.09" fill="#4ab96d"/><rect x="292.21" y="176.29" width="5.11" height="5.09" fill="#bad72c"/><rect x="296.53" y="176.29" width="5.11" height="5.09" fill="#f4e02d"/><rect x="300.84" y="176.29" width="5.11" height="5.09" fill="#90cf46"/><rect x="305.16" y="176.29" width="5.11" height="5.09" fill="#2d7288"/><rect x="309.47" y="176.29" width="5.11" height="5.09" fill="#440f5b"/><rect x="313.79" y="176.29" width="5.11" height="5.09" fill="#410450"/><rect x="318.10" y="176.29" width="5.11" height="5.09" fill="#453077"/><rect x="322.41" y="176.29" width="5.11" height="5.09" fill="#395686"/><rect x="326.73" y="176.29" width="5.11" height="5.09" fill="#316888"/><rect x="331.04" y="176.29" width="5.11" height="5.09" fill="#2d7288"/><rect x="335.36" y="176.29" width="5.11" height="5.09" fill="#2b7789"/><rect x="339.67" y="176.29" width="5.11" height="5.09" fill="#2a7a89"/><rect x="343.99" y="176.29" width="4.31" height="5.09" fill="#297c89"/><rect x="257.70" y="180.57" width="5.11" height="5.09" fill="#248f87"/><rect x="262.01" y="180.57" width="5.11" height="5.09" fill="#239086"/><rect x="266.33" y="180.57" width="5.11" height="5.09" fill="#239086"/><rect x="270.64" y="180.57" width="5.11" height="5.09" fill="#239286"/><rect x="274.96" y="180.57" width="5.11" height="5.09" fill="#239585"/><rect x="279.27" y="180.57" width="5.11" height="5.09" fill="#239a83"/><rect x="283.59" y="180.57" width="5.11" height="5.09" fill="#29a47f"/><rect x="287.90" y="180.57" width="5.11" height="5.09" fill="#43b671"/><rect x="292.21" y="180.57" width="5.11" height="5.09" fill="#9ad140"/><rect x="296.53" y="180.57" width="5.11" height="5.09" fill="#ebde27"/><rect x="300.84" y="180.57" width="5.11" height="5.09" fill="#6cc65b"/><rect x="305.16" y="180.57" width="5.11" height="5.09" fill="#2e7188"/><rect x="309.47" y="180.57" width="5.11" height="5.09" fill="#461a65"/><rect x="313.79" y="180.57" width="5.11" height="5.09" fill="#420551"/><rect x="318.10" y="180.57" width="5.11" height="5.09" fill="#44347a"/><rect x="322.41" y="180.57" width="5.11" height="5.09" fill="#385786"/><rect x="326.73" y="180.57" width="5.11" height="5.09" fill="#316988"/><rect x="331.04" y="180.57" width="5.11" height="5.09" fill="#2d7288"/><rect x="335.36" y="180.57" width="5.11" height="5.09" fill="#2b7789"/><rect x="339.67" y="180.57" width="5.11" height="5.09" fill="#2a7a89"/><rect x="343.99" y="180.57" width="4.31" height="5.09" fill="#297c89"/><rect x="257.70" y="184.86" width="5.11" height="5.09" fill="#248f87"/><rect x="262.01" y="184.86" width="5.11" height="5.09" fill="#248f87"/><rect x="266.33" y="184.86" width="5.11" height="5.09" fill="#239086"/><rect x="270.64" y="184.86" width="5.11" height="5.09" fill="#239186"/><rect x="274.96" y="184.86" width="5.11" height="5.09" fill="#239485"/><rect x="279.27" y="184.86" width="5.11" height="5.09" fill="#239884"/><rect x="283.59" y="184.86" width="5.11" height="5.09" fill="#269f81"/><rect x="287.90" y="184.86" width="5.11" height="5.09" fill="#33ad79"/><rect x="292.21" y="184.86" width="5.11" height="5.09" fill="#57be67"/><rect x="296.53" y="184.86" width="5.11" height="5.09" fill="#6ec65a"/><rect x="300.84" y="184.86" width="5.11" height="5.09" fill="#32ac7a"/><rect x="305.16" y="184.86" width="5.11" height="5.09" fill="#2c7589"/><rect x="309.47" y="184.86" width="5.11" height="5.09" fill="#414280"/><rect x="313.79" y="184.86" width="5.11" height="5.09" fill="#453379"/><rect x="318.10" y="184.86" width="5.11" height="5.09" fill="#3e4883"/><rect x="322.41" y="184.86" width="5.11" height="5.09" fill="#355e87"/><rect x="326.73" y="184.86" width="5.11" height="5.09" fill="#306b88"/><rect x="331.04" y="184.86" width="5.11" height="5.09" fill="#2d7389"/><rect x="335.36" y="184.86" width="5.11" height="5.09" fill="#2b7889"/><rect x="339.67" y="184.86" width="5.11" height="5.09" fill="#2a7a89"/><rect x="343.99" y="184.86" width="4.31" height="5.09" fill="#297c89"/><rect x="257.70" y="189.14" width="5.11" height="5.09" fill="#248f87"/><rect x="262.01" y="189.14" width="5.11" height="5.09" fill="#248f87"/><rect x="266.33" y="189.14" width="5.11" height="5.09" fill="#239086"/><rect x="270.64" y="189.14" width="5.11" height="5.09" fill="#239186"/><rect x="274.96" y="189.14" width="5.11" height="5.09" fill="#239386"/><rect x="279.27" y="189.14" width="5.11" height="5.09" fill="#239785"/><rect x="283.59" y="189.14" width="5.11" height="5.09" fill="#249b83"/><rect x="287.90" y="189.14" width="5.11" height="5.09" fill="#28a37f"/><rect x="292.21" y="189.14" width="5.11" height="5.09" fill="#31ab7a"/><rect x="296.53" y="189.14" width="5.11" height="5.09" fill="#31ab7a"/><rect x="300.84" y="189.14" width="5.11" height="5.09" fill="#239984"/><rect x="305.16" y="189.14" width="5.11" height="5.09" fill="#2a7a89"/><rect x="309.47" y="189.14" width="5.11" height="5.09" fill="#355f87"/><rect x="313.79" y="189.14" width="5.11" height="5.09" fill="#395686"/><rect x="318.10" y="189.14" width="5.11" height="5.09" fill="#365c87"/><rect x="322.41" y="189.14" width="5.11" height="5.09" fill="#326788"/><rect x="326.73" y="189.14" width="5.11" height="5.09" fill="#2e6f88"/><rect x="331.04" y="189.14" width="5.11" height="5.09" fill="#2c7589"/><rect x="335.36" y="189.14" width="5.11" height="5.09" fill="#2b7989"/><rect x="339.67" y="189.14" width="5.11" height="5.09" fill="#2a7b89"/><rect x="343.99" y="189.14" width="4.31" height="5.09" fill="#297d89"/><rect x="257.70" y="193.43" width="5.11" height="5.09" fill="#248e87"/><rect x="262.01" y="193.43" width="5.11" height="5.09" fill="#248f87"/><rect x="266.33" y="193.43" width="5.11" height="5.09" fill="#239086"/><rect x="270.64" y="193.43" width="5.11" height="5.09" fill="#239086"/><rect x="274.96" y="193.43" width="5.11" height="5.09" fill="#239286"/><rect x="279.27" y="193.43" width="5.11" height="5.09" fill="#239485"/><rect x="283.59" y="193.43" width="5.11" height="5.09" fill="#239884"/><rect x="287.90" y="193.43" width="5.11" height="5.09" fill="#249b83"/><rect x="292.21" y="193.43" width="5.11" height="5.09" fill="#259e82"/><rect x="296.53" y="193.43" width="5.11" height="5.09" fill="#249b83"/><rect x="300.84" y="193.43" width="5.11" height="5.09" fill="#239086"/><rect x="305.16" y="193.43" width="5.11" height="5.09" fill="#297e89"/><rect x="309.47" y="193.43" width="5.11" height="5.09" fill="#2f6e88"/><rect x="313.79" y="193.43" width="5.11" height="5.09" fill="#316888"/><rect x="318.10" y="193.43" width="5.11" height="5.09" fill="#306988"/><rect x="322.41" y="193.43" width="5.11" height="5.09" fill="#2f6e88"/><rect x="326.73" y="193.43" width="5.11" height="5.09" fill="#2d7389"/><rect x="331.04" y="193.43" width="5.11" height="5.09" fill="#2b7789"/><rect x="335.36" y="193.43" width="5.11" height="5.09" fill="#2a7a89"/><rect x="339.67" y="193.43" width="5.11" height="5.09" fill="#297c89"/><rect x="343.99" y="193.43" width="4.31" height="5.09" fill="#297d89"/><rect x="257.70" y="197.71" width="5.11" height="5.09" fill="#248e87"/><rect x="262.01" y="197.71" width="5.11" height="5.09" fill="#248f87"/><rect x="266.33" y="197.71" width="5.11" height="5.09" fill="#248f87"/><rect x="270.64" y="197.71" width="5.11" height="5.09" fill="#239086"/><rect x="274.96" y="197.71" width="5.11" height="5.09" fill="#239086"/><rect x="279.27" y="197.71" width="5.11" height="5.09" fill="#239286"/><rect x="283.59" y="197.71" width="5.11" height="5.09" fill="#239485"/><rect x="287.90" y="197.71" width="5.11" height="5.09" fill="#239685"/><rect x="292.21" y="197.71" width="5.11" height="5.09" fill="#239685"/><rect x="296.53" y="197.71" width="5.11" height="5.09" fill="#239386"/><rect x="300.84" y="197.71" width="5.11" height="5.09" fill="#248c87"/><rect x="305.16" y="197.71" width="5.11" height="5.09" fill="#288088"/><rect x="309.47" y="197.71" width="5.11" height="5.09" fill="#2b7789"/><rect x="313.79" y="197.71" width="5.11" height="5.09" fill="#2d7288"/><rect x="318.10" y="197.71" width="5.11" height="5.09" fill="#2d7288"/><rect x="322.41" y="197.71" width="5.11" height="5.09" fill="#2c7489"/><rect x="326.73" y="197.71" width="5.11" height="5.09" fill="#2b7789"/><rect x="331.04" y="197.71" width="5.11" height="5.09" fill="#2b7989"/><rect x="335.36" y="197.71" width="5.11" height="5.09" fill="#2a7b89"/><rect x="339.67" y="197.71" width="5.11" height="5.09" fill="#297c89"/><rect x="343.99" y="197.71" width="4.31" height="5.09" fill="#297e89"/><rect x="257.70" y="202.00" width="5.11" height="5.09" fill="#248e87"/><rect x="262.01" y="202.00" width="5.11" height="5.09" fill="#248e87"/><rect x="266.33" y="202.00" width="5.11" height="5.09" fill="#248f87"/><rect x="270.64" y="202.00" width="5.11" height="5.09" fill="#239086"/><rect x="274.96" y="202.00" width="5.11" height="5.09" fill="#239086"/><rect x="279.27" y="202.00" width="5.11" height="5.09" fill="#239086"/><rect x="283.59" y="202.00" width="5.11" height="5.09" fill="#239186"/><rect x="287.90" y="202.00" width="5.11" height="5.09" fill="#239286"/><rect x="292.21" y="202.00" width="5.11" height="5.09" fill="#239286"/><rect x="296.53" y="202.00" width="5.11" height="5.09" fill="#239086"/><rect x="300.84" y="202.00" width="5.11" height="5.09" fill="#258a87"/><rect x="305.16" y="202.00" width="5.11" height="5.09" fill="#288188"/><rect x="309.47" y="202.00" width="5.11" height="5.09" fill="#2a7b89"/><rect x="313.79" y="202.00" width="5.11" height="5.09" fill="#2b7889"/><rect x="318.10" y="202.00" width="5.11" height="5.09" fill="#2b7789"/><rect x="322.41" y="202.00" width="5.11" height="5.09" fill="#2b7889"/><rect x="326.73" y="202.00" width="5.11" height="5.09" fill="#2a7a89"/><rect x="331.04" y="202.00" width="5.11" height="5.09" fill="#2a7a89"/><rect x="335.36" y="202.00" width="5.11" height="5.09" fill="#297c89"/><rect x="339.67" y="202.00" width="5.11" height="5.09" fill="#297d89"/><rect x="343.99" y="202.00" width="4.31" height="5.09" fill="#297e89"/><rect x="257.70" y="206.29" width="5.11" height="5.09" fill="#248e87"/><rect x="262.01" y="206.29" width="5.11" height="5.09" fill="#248e87"/><rect x="266.33" y="206.29" width="5.11" height="5.09" fill="#248f87"/><rect x="270.64" y="206.29" width="5.11" height="5.09" fill="#248f87"/><rect x="274.96" y="206.29" width="5.11" height="5.09" fill="#239086"/><rect x="279.27" y="206.29" width="5.11" height="5.09" fill="#239086"/><rect x="283.59" y="206.29" width="5.11" height="5.09" fill="#239086"/><rect x="287.90" y="206.29" width="5.11" height="5.09" fill="#239086"/><rect x="292.21" y="206.29" width="5.11" height="5.09" fill="#239086"/><rect x="296.53" y="206.29" width="5.11" height="5.09" fill="#248e87"/><rect x="300.84" y="206.29" width="5.11" height="5.09" fill="#258988"/><rect x="305.16" y="206.29" width="5.11" height="5.09" fill="#278288"/><rect x="309.47" y="206.29" width="5.11" height="5.09" fill="#297e89"/><rect x="313.79" y="206.29" width="5.11" height="5.09" fill="#2a7b89"/><rect x="318.10" y="206.29" width="5.11" height="5.09" fill="#2a7a89"/><rect x="322.41" y="206.29" width="5.11" height="5.09" fill="#2a7a89"/><rect x="326.73" y="206.29" width="5.11" height="5.09" fill="#2a7b89"/><rect x="331.04" y="206.29" width="5.11" height="5.09" fill="#297c89"/><rect x="335.36" y="206.29" width="5.11" height="5.09" fill="#297d89"/><rect x="339.67" y="206.29" width="5.11" height="5.09" fill="#297e89"/><rect x="343.99" y="206.29" width="4.31" height="5.09" fill="#287f88"/><rect x="257.70" y="210.57" width="5.11" height="5.09" fill="#248e87"/><rect x="262.01" y="210.57" width="5.11" height="5.09" fill="#248e87"/><rect x="266.33" y="210.57" width="5.11" height="5.09" fill="#248e87"/><rect x="270.64" y="210.57" width="5.11" height="5.09" fill="#248f87"/><rect x="274.96" y="210.57" width="5.11" height="5.09" fill="#248f87"/><rect x="279.27" y="210.57" width="5.11" height="5.09" fill="#248f87"/><rect x="283.59" y="210.57" width="5.11" height="5.09" fill="#248f87"/><rect x="287.90" y="210.57" width="5.11" height="5.09" fill="#248f87"/><rect x="292.21" y="210.57" width="5.11" height="5.09" fill="#248f87"/><rect x="296.53" y="210.57" width="5.11" height="5.09" fill="#248d87"/><rect x="300.84" y="210.57" width="5.11" height="5.09" fill="#258988"/><rect x="305.16" y="210.57" width="5.11" height="5.09" fill="#278388"/><rect x="309.47" y="210.57" width="5.11" height="5.09" fill="#287f88"/><rect x="313.79" y="210.57" width="5.11" height="5.09" fill="#297d89"/><rect x="318.10" y="210.57" width="5.11" height="5.09" fill="#297c89"/><rect x="322.41" y="210.57" width="5.11" height="5.09" fill="#297c89"/><rect x="326.73" y="210.57" width="5.11" height="5.09" fill="#297d89"/><rect x="331.04" y="210.57" width="5.11" height="5.09" fill="#297d89"/><rect x="335.36" y="210.57" width="5.11" height="5.09" fill="#297e89"/><rect x="339.67" y="210.57" width="5.11" height="5.09" fill="#287f88"/><rect x="343.99" y="210.57" width="4.31" height="5.09" fill="#287f88"/><rect x="257.70" y="214.86" width="5.11" height="5.09" fill="#248e87"/><rect x="262.01" y="214.86" width="5.11" height="5.09" fill="#248e87"/><rect x="266.33" y="214.86" width="5.11" height="5.09" fill="#248e87"/><rect x="270.64" y="214.86" width="5.11" height="5.09" fill="#248e87"/><rect x="274.96" y="214.86" width="5.11" height="5.09" fill="#248e87"/><rect x="279.27" y="214.86" width="5.11" height="5.09" fill="#248e87"/><rect x="283.59" y="214.86" width="5.11" height="5.09" fill="#248f87"/><rect x="287.90" y="214.86" width="5.11" height="5.09" fill="#248e87"/><rect x="292.21" y="214.86" width="5.11" height="5.09" fill="#248e87"/><rect x="296.53" y="214.86" width="5.11" height="5.09" fill="#248c87"/><rect x="300.84" y="214.86" width="5.11" height="5.09" fill="#258988"/><rect x="305.16" y="214.86" width="5.11" height="5.09" fill="#278488"/><rect x="309.47" y="214.86" width="5.11" height="5.09" fill="#288088"/><rect x="313.79" y="214.86" width="5.11" height="5.09" fill="#287f88"/><rect x="318.10" y="214.86" width="5.11" height="5.09" fill="#297e89"/><rect x="322.41" y="214.86" width="5.11" height="5.09" fill="#297e89"/><rect x="326.73" y="214.86" width="5.11" height="5.09" fill="#297e89"/><rect x="331.04" y="214.86" width="5.11" height="5.09" fill="#297e89"/><rect x="335.36" y="214.86" width="5.11" height="5.09" fill="#287f88"/><rect x="339.67" y="214.86" width="5.11" height="5.09" fill="#287f88"/><rect x="343.99" y="214.86" width="4.31" height="5.09" fill="#288088"/><rect x="257.70" y="219.14" width="5.11" height="5.09" fill="#248d87"/><rect x="262.01" y="219.14" width="5.11" height="5.09" fill="#248e87"/><rect x="266.33" y="219.14" width="5.11" height="5.09" fill="#248e87"/><rect x="270.64" y="219.14" width="5.11" height="5.09" fill="#248e87"/><rect x="274.96" y="219.14" width="5.11" height="5.09" fill="#248e87"/><rect x="279.27" y="219.14" width="5.11" height="5.09" fill="#248e87"/><rect x="283.59" y="219.14" width="5.11" height="5.09" fill="#248e87"/><rect x="287.90" y="219.14" width="5.11" height="5.09" fill="#248e87"/><rect x="292.21" y="219.14" width="5.11" height="5.09" fill="#248d87"/><rect x="296.53" y="219.14" width="5.11" height="5.09" fill="#248c87"/><rect x="300.84" y="219.14" width="5.11" height="5.09" fill="#258988"/><rect x="305.16" y="219.14" width="5.11" height="5.09" fill="#278488"/><rect x="309.47" y="219.14" width="5.11" height="5.09" fill="#288188"/><rect x="313.79" y="219.14" width="5.11" height="5.09" fill="#288088"/><rect x="318.10" y="219.14" width="5.11" height="5.09" fill="#287f88"/><rect x="322.41" y="219.14" width="5.11" height="5.09" fill="#287f88"/><rect x="326.73" y="219.14" width="5.11" height="5.09" fill="#287f88"/><rect x="331.04" y="219.14" width="5.11" height="5.09" fill="#287f88"/><rect x="335.36" y="219.14" width="5.11" height="5.09" fill="#287f88"/><rect x="339.67" y="219.14" width="5.11" height="5.09" fill="#288088"/><rect x="343.99" y="219.14" width="4.31" height="5.09" fill="#288088"/><rect x="257.70" y="223.43" width="5.11" height="5.09" fill="#248d87"/><rect x="262.01" y="223.43" width="5.11" height="5.09" fill="#248d87"/><rect x="266.33" y="223.43" width="5.11" height="5.09" fill="#248d87"/><rect x="270.64" y="223.43" width="5.11" height="5.09" fill="#248e87"/><rect x="274.96" y="223.43" width="5.11" height="5.09" fill="#248e87"/><rect x="279.27" y="223.43" width="5.11" height="5.09" fill="#248e87"/><rect x="283.59" y="223.43" width="5.11" height="5.09" fill="#248e87"/><rect x="287.90" y="223.43" width="5.11" height="5.09" fill="#248d87"/><rect x="292.21" y="223.43" width="5.11" height="5.09" fill="#248d87"/><rect x="296.53" y="223.43" width="5.11" height="5.09" fill="#248c87"/><rect x="300.84" y="223.43" width="5.11" height="5.09" fill="#258988"/><rect x="305.16" y="223.43" width="5.11" height="5.09" fill="#278488"/><rect x="309.47" y="223.43" width="5.11" height="5.09" fill="#288188"/><rect x="313.79" y="223.43" width="5.11" height="5.09" fill="#288088"/><rect x="318.10" y="223.43" width="5.11" height="5.09" fill="#288088"/><rect x="322.41" y="223.43" width="5.11" height="5.09" fill="#288088"/><rect x="326.73" y="223.43" width="5.11" height="5.09" fill="#288088"/><rect x="331.04" y="223.43" width="5.11" height="5.09" fill="#288088"/><rect x="335.36" y="223.43" width="5.11" height="5.09" fill="#288088"/><rect x="339.67" y="223.43" width="5.11" height="5.09" fill="#288088"/><rect x="343.99" y="223.43" width="4.31" height="5.09" fill="#288088"/><rect x="257.70" y="227.71" width="5.11" height="4.29" fill="#248d87"/><rect x="262.01" y="227.71" width="5.11" height="4.29" fill="#248d87"/><rect x="266.33" y="227.71" width="5.11" height="4.29" fill="#248d87"/><rect x="270.64" y="227.71" width="5.11" height="4.29" fill="#248d87"/><rect x="274.96" y="227.71" width="5.11" height="4.29" fill="#248d87"/><rect x="279.27" y="227.71" width="5.11" height="4.29" fill="#248d87"/><rect x="283.59" y="227.71" width="5.11" height="4.29" fill="#248d87"/><rect x="287.90" y="227.71" width="5.11" height="4.29" fill="#248d87"/><rect x="292.21" y="227.71" width="5.11" height="4.29" fill="#248d87"/><rect x="296.53" y="227.71" width="5.11" height="4.29" fill="#248c87"/><rect x="300.84" y="227.71" width="5.11" height="4.29" fill="#258988"/><rect x="305.16" y="227.71" width="5.11" height="4.29" fill="#268588"/><rect x="309.47" y="227.71" width="5.11" height="4.29" fill="#288188"/><rect x="313.79" y="227.71" width="5.11" height="4.29" fill="#288188"/><rect x="318.10" y="227.71" width="5.11" height="4.29" fill="#288088"/><rect x="322.41" y="227.71" width="5.11" height="4.29" fill="#288088"/><rect x="326.73" y="227.71" width="5.11" height="4.29" fill="#288088"/><rect x="331.04" y="227.71" width="5.11" height="4.29" fill="#288088"/><rect x="335.36" y="227.71" width="5.11" height="4.29" fill="#288088"/><rect x="339.67" y="227.71" width="5.11" height="4.29" fill="#288088"/><rect x="343.99" y="227.71" width="4.31" height="4.29" fill="#288188"/></g>
<rect x="257.7" y="142" width="90.6" height="90" fill="none" stroke="#222" stroke-width="0.6"/>
<path d="M257.7,158.60h1.5 M257.7,181.00h1.5 M257.7,203.40h1.5 M257.7,225.80h1.5 M260.90,232v-1.5 M283.30,232v-1.5 M305.70,232v-1.5 M328.10,232v-1.5" stroke="#222" stroke-width="0.6"/>
<linearGradient id="vir" x1="0" y1="0" x2="0" y2="1"><stop offset="0.000" stop-color="#f4e02d"/><stop offset="0.050" stop-color="#d8db21"/><stop offset="0.100" stop-color="#b8d72d"/><stop offset="0.150" stop-color="#98d141"/><stop offset="0.200" stop-color="#79c954"/><stop offset="0.250" stop-color="#5fc162"/><stop offset="0.300" stop-color="#47b76f"/><stop offset="0.350" stop-color="#33ad79"/><stop offset="0.400" stop-color="#27a180"/><stop offset="0.450" stop-color="#239685"/><stop offset="0.500" stop-color="#248b87"/><stop offset="0.550" stop-color="#288088"/><stop offset="0.600" stop-color="#2c7489"/><stop offset="0.650" stop-color="#316988"/><stop offset="0.700" stop-color="#365c87"/><stop offset="0.750" stop-color="#3b5185"/><stop offset="0.800" stop-color="#404381"/><stop offset="0.850" stop-color="#44347a"/><stop offset="0.900" stop-color="#46256f"/><stop offset="0.950" stop-color="#451560"/><stop offset="1.000" stop-color="#410450"/></linearGradient>
<rect x="350.7" y="142" width="9.0" height="89.1" fill="url(#vir)"/>
<rect x="350.7" y="142" width="9.0" height="89.1" fill="none" stroke="#333" stroke-width="0.6"/>
<path d="M359.7,160.23h-1.4 M359.7,187.22h-1.4 M359.7,214.22h-1.4" stroke="#333" stroke-width="0.6"/>
<text x="243" y="137.6" class="lt" font-size="8.8" fill="#454545" textLength="120.8" lengthAdjust="spacingAndGlyphs">Dry phantom field distribution</text>
<text x="256.0" y="161.90" class="bt" text-anchor="end" font-size="9.7">5</text>
<text x="256.0" y="184.30" class="bt" text-anchor="end" font-size="9.7">0</text>
<text x="256.0" y="206.70" class="bt" text-anchor="end" font-size="9.7">−5</text>
<text x="256.0" y="229.10" class="bt" text-anchor="end" font-size="9.7">−10</text>
<text x="260.90" y="240.4" class="bt" text-anchor="middle" font-size="9.7">−10</text>
<text x="283.30" y="240.4" class="bt" text-anchor="middle" font-size="9.7">−5</text>
<text x="305.70" y="240.4" class="bt" text-anchor="middle" font-size="9.7">0</text>
<text x="328.10" y="240.4" class="bt" text-anchor="middle" font-size="9.7">5</text>
<text x="302.7" y="250.5" class="bt" text-anchor="middle" font-size="9.7">X / mm</text>
<text transform="translate(237.6,187.3) rotate(-90)" class="bt" text-anchor="middle" font-size="9.7">Y / mm</text>
<text x="361.8" y="163.53" class="bt" font-size="9.7">20</text>
<text x="361.8" y="190.53" class="bt" font-size="9.7">0</text>
<text x="361.8" y="217.53" class="bt" font-size="9.7">−20</text>
<text transform="translate(386.4,202) rotate(-90)" class="bt" font-size="9.7"><tspan font-style="italic">B</tspan><tspan font-style="italic" dy="2" font-size="6.5">z</tspan><tspan dy="-2"> / nT</tspan></text>
</g>
</svg>
</body></html>
